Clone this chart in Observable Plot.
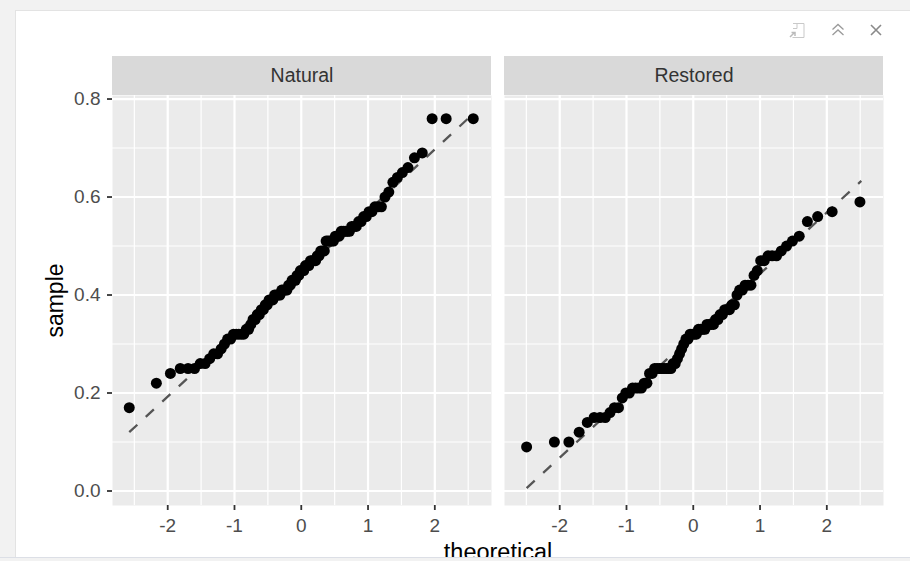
<!DOCTYPE html>
<html>
<head>
<meta charset="utf-8">
<script src="https://cdn.jsdelivr.net/npm/d3@7"></script>
<script src="https://cdn.jsdelivr.net/npm/@observablehq/plot@0.6"></script>
<style>
html,body{margin:0;padding:0;width:910px;height:561px;overflow:hidden;background:#f2f2f2;font-family:"Liberation Sans",Arial,sans-serif}
#card{position:absolute;left:15px;top:10px;width:900px;height:560px;background:#fff;border:1px solid #e3e3e3;box-sizing:border-box}
#chart{position:absolute;left:0;top:0}
#foot{position:absolute;left:0;top:557px;width:910px;height:4px;background:#f2f2f2;border-top:1px solid #dcdfe6;box-sizing:border-box}
.ic{position:absolute;top:22px}
</style>
</head>
<body>
<div id="card"></div>
<div id="chart"></div>
<div id="foot"></div>
<svg class="ic" style="left:788px" width="18" height="18" viewBox="0 0 18 18" fill="none" stroke="#c9c9c9"><path d="M5 1.5h11v14H4.5M9 1.5v5H5"/><path d="M2 15l4-4M3.5 10.5H7V14" stroke="#bbb" stroke-width="1.5"/></svg>
<svg class="ic" style="left:830px" width="16" height="16" viewBox="0 0 16 16" fill="none" stroke="#9a9a9a" stroke-width="1.3"><path d="M2.5 7.5L8 2.5l5.5 5M2.5 13L8 8l5.5 5"/></svg>
<svg class="ic" style="left:868px" width="16" height="16" viewBox="0 0 16 16" fill="none" stroke="#8a8a8a" stroke-width="1.6"><path d="M3 3l10 10M13 3L3 13"/></svg>
<script>
const panels = ["Natural", "Restored"];

const naturalTheoretical = [
  -2.576,-2.170,-1.960,-1.812,-1.695,-1.598,-1.514,-1.440,-1.372,-1.311,
  -1.254,-1.200,-1.150,-1.103,-1.058,-1.015,-0.974,-0.935,-0.896,-0.860,
  -0.824,-0.789,-0.755,-0.722,-0.690,-0.659,-0.628,-0.598,-0.568,-0.539,
  -0.510,-0.482,-0.454,-0.426,-0.399,-0.372,-0.345,-0.319,-0.292,-0.266,
  -0.240,-0.215,-0.189,-0.164,-0.138,-0.113,-0.088,-0.063,-0.038,-0.013,
  0.013,0.038,0.063,0.088,0.113,0.138,0.164,0.189,0.215,0.240,
  0.266,0.292,0.319,0.345,0.372,0.399,0.426,0.454,0.482,0.510,
  0.539,0.568,0.598,0.628,0.659,0.690,0.722,0.755,0.789,0.824,
  0.860,0.896,0.935,0.974,1.015,1.058,1.103,1.150,1.200,1.254,
  1.311,1.372,1.440,1.514,1.598,1.695,1.812,1.960,2.170,2.576
];
const naturalSample = [
  0.17,0.22,0.24,0.25,0.25,0.25,0.26,0.26,0.27,0.28,
  0.28,0.29,0.30,0.31,0.31,0.32,0.32,0.32,0.32,0.32,
  0.33,0.33,0.34,0.35,0.35,0.36,0.36,0.37,0.37,0.38,
  0.38,0.39,0.39,0.39,0.40,0.40,0.40,0.40,0.41,0.41,
  0.41,0.41,0.42,0.42,0.43,0.43,0.43,0.44,0.44,0.45,
  0.45,0.45,0.46,0.46,0.46,0.47,0.47,0.47,0.47,0.48,
  0.48,0.49,0.49,0.49,0.51,0.51,0.51,0.51,0.51,0.52,
  0.52,0.52,0.53,0.53,0.53,0.53,0.53,0.54,0.54,0.54,
  0.55,0.55,0.56,0.56,0.57,0.57,0.58,0.58,0.58,0.60,
  0.61,0.63,0.64,0.65,0.66,0.68,0.69,0.76,0.76,0.76
];
const restoredTheoretical = [
  -2.496,-2.080,-1.863,-1.709,-1.587,-1.485,-1.397,-1.318,-1.247,-1.181,
  -1.120,-1.063,-1.010,-0.959,-0.910,-0.864,-0.820,-0.776,-0.735,-0.694,
  -0.655,-0.616,-0.579,-0.542,-0.507,-0.471,-0.437,-0.402,-0.369,-0.335,
  -0.303,-0.270,-0.237,-0.205,-0.174,-0.142,-0.110,-0.078,-0.047,-0.016,
  0.016,0.047,0.078,0.110,0.142,0.174,0.205,0.237,0.270,0.303,
  0.335,0.369,0.402,0.437,0.471,0.507,0.542,0.579,0.616,0.655,
  0.694,0.735,0.776,0.820,0.864,0.910,0.959,1.010,1.063,1.120,
  1.181,1.247,1.318,1.397,1.485,1.587,1.709,1.863,2.080,2.496
];
const restoredSample = [
  0.09,0.10,0.10,0.12,0.14,0.15,0.15,0.15,0.16,0.17,
  0.17,0.19,0.20,0.20,0.21,0.21,0.21,0.21,0.22,0.22,
  0.24,0.24,0.25,0.25,0.25,0.25,0.25,0.25,0.25,0.25,
  0.26,0.26,0.27,0.28,0.29,0.30,0.31,0.31,0.32,0.32,
  0.32,0.32,0.33,0.33,0.33,0.33,0.34,0.34,0.34,0.34,
  0.35,0.35,0.36,0.36,0.37,0.37,0.37,0.38,0.38,0.40,
  0.41,0.41,0.42,0.42,0.42,0.44,0.45,0.47,0.47,0.48,
  0.48,0.48,0.49,0.50,0.51,0.52,0.55,0.56,0.57,0.59
];
const naturalLineX = [-2.576, 2.576];
const naturalLineY = [0.12, 0.77];
const restoredLineX = [-2.496, 2.517];
const restoredLineY = [0.006, 0.633];

const xTicks = [-2, -1, 0, 1, 2];
const xMinor = [-2.5, -1.5, -0.5, 0.5, 1.5, 2.5];
const yTicks = [0, 0.2, 0.4, 0.6, 0.8];
const yMinor = [0.1, 0.3, 0.5, 0.7];
const xDomain = [-2.827, 2.849];
const yDomain = [-0.0296, 0.8072];
const stripBand = [0.8072, 0.8868];

const points = [
  ...naturalTheoretical.map((x, i) => ({panel: panels[0], x, y: naturalSample[i]})),
  ...restoredTheoretical.map((x, i) => ({panel: panels[1], x, y: restoredSample[i]}))
];
const lines = [
  ...naturalLineX.map((x, i) => ({panel: panels[0], x, y: naturalLineY[i]})),
  ...restoredLineX.map((x, i) => ({panel: panels[1], x, y: restoredLineY[i]}))
];
const strips = panels.map(panel => ({panel}));

const major = 2.2, minor = 1.2;
const plot = Plot.plot({
  width: 910,
  height: 561,
  marginTop: 95,
  marginBottom: 56,
  marginLeft: 112,
  marginRight: 27,
  style: {background: "transparent", fontFamily: "'Liberation Sans', Arial, sans-serif", overflow: "visible"},
  fx: {domain: panels, axis: null, label: null, paddingInner: 13 / 392, paddingOuter: 0},
  x: {domain: xDomain, label: null, axis: null},
  y: {domain: yDomain, label: null, axis: null},
  marks: [
    Plot.frame({fill: "#ebebeb", stroke: null}),
    Plot.ruleY(yMinor, {stroke: "#fff", strokeWidth: minor}),
    Plot.ruleX(xMinor, {stroke: "#fff", strokeWidth: minor}),
    Plot.ruleY(yTicks, {stroke: "#fff", strokeWidth: major}),
    Plot.ruleX(xTicks, {stroke: "#fff", strokeWidth: major}),
    Plot.rect(strips, {fx: "panel", x1: xDomain[0], x2: xDomain[1], y1: stripBand[0], y2: stripBand[1], fill: "#d9d9d9"}),
    Plot.text(strips, {fx: "panel", x: d => (xDomain[0] + xDomain[1]) / 2, y: d => (stripBand[0] + stripBand[1]) / 2, text: "panel", fontSize: 19.5, fill: "#333", dy: -0.5}),
    Plot.axisX({ticks: xTicks, tickFormat: d => String(d), tickSize: 5, tickPadding: 8, fontSize: 19, stroke: "#333", strokeWidth: 1.8, fill: "#4d4d4d", label: null}),
    Plot.axisY({ticks: yTicks, tickFormat: d => d.toFixed(1), tickSize: 5, tickPadding: 7, fontSize: 19, stroke: "#333", strokeWidth: 1.8, fill: "#4d4d4d", label: null}),
    Plot.line(lines, {fx: "panel", x: "x", y: "y", z: "panel", stroke: "#555", strokeWidth: 2.3, strokeDasharray: "11,11.5", strokeLinecap: "butt"}),
    Plot.dot(points, {fx: "panel", x: "x", y: "y", r: 5.5, fill: "#000", stroke: null}),
    Plot.text(["theoretical"], {facet: "super", frameAnchor: "bottom", dy: 54, fontSize: 23.5, fill: "#000"}),
    Plot.text(["sample"], {facet: "super", frameAnchor: "left", textAnchor: "middle", rotate: -90, dx: -57, fontSize: 23, fill: "#000"})
  ]
});
document.getElementById("chart").append(plot);
</script>
</body>
</html>
